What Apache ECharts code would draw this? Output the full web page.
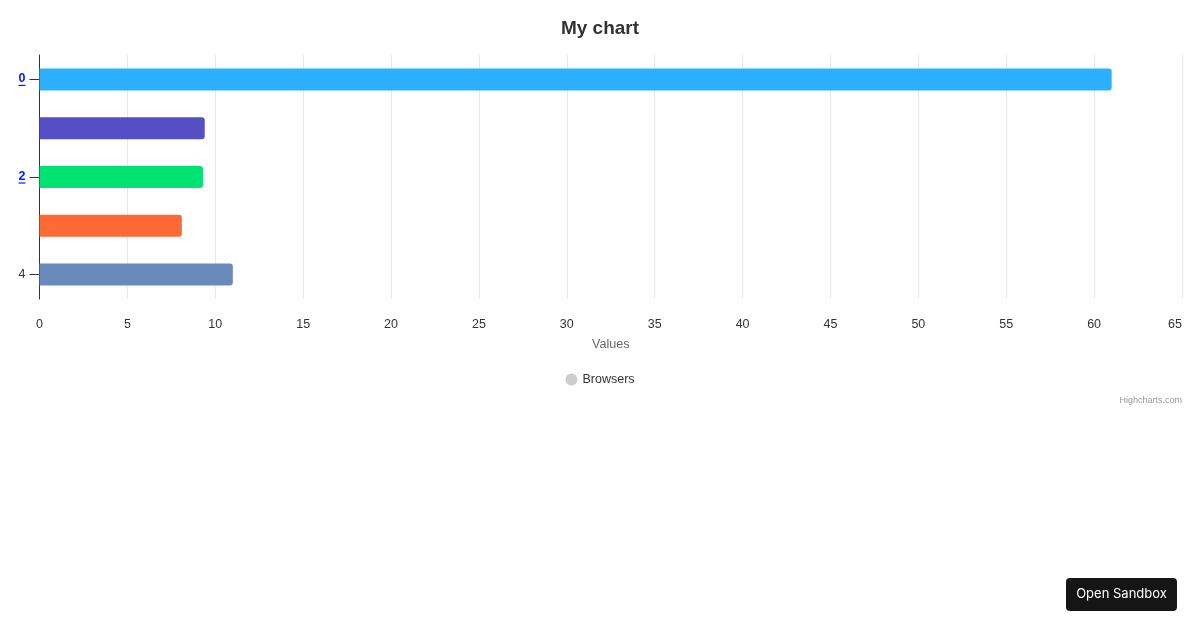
<!DOCTYPE html>
<html>
<head>
	<meta charset="utf-8">
	<title>My chart</title>
	<script src="https://cdn.jsdelivr.net/npm/echarts@6/dist/echarts.min.js"></script>
	<style>
body{
	margin: 0;
	background: #ffffff;
}
#main{
	width: 1200px;
	height: 630px;
}
	</style>
</head>
<body>
<div id="main"></div>
<script>
// data
var categories = ['0', '1', '2', '3', '4'];
var values = [61, 9.4, 9.3, 8.1, 11];
var barColors = ['#2caffe', '#544fc5', '#00e272', '#fe6a35', '#6b8abc'];
var drillCats = ['0', '2'];   // labels drawn as links
var xTicks = [0, 65, 5];      // min, max, step

var myChart = echarts.init(document.getElementById('main'));

var barData = values.map(function (v, i) {
	return { value: v, itemStyle: { color: barColors[i] } };
});

var option = {
	animation: false,
	textStyle: { fontFamily: 'Liberation Sans, Arial, sans-serif' },
	title: {
		text: 'My chart',
		left: 'center',
		top: 14,
		textStyle: { fontSize: 19, fontWeight: 'bold', color: '#333333' }
	},
	legend: {
		bottom: 239,
		left: 'center',
		icon: 'circle',
		itemWidth: 12,
		itemHeight: 12,
		itemGap: 8,
		data: [{ name: 'Browsers', itemStyle: { color: '#cccccc' } }],
		textStyle: { fontSize: 12.5, color: '#333333' }
	},
	grid: { left: 39.5, right: 18, top: 55, bottom: 331 },
	xAxis: {
		type: 'value',
		min: xTicks[0],
		max: xTicks[1],
		interval: xTicks[2],
		name: 'Values',
		nameLocation: 'middle',
		nameGap: 39,
		nameTextStyle: { color: '#666666', fontSize: 12.5 },
		axisLine: { show: false },
		axisTick: { show: false },
		axisLabel: { color: '#333333', fontSize: 12.5, margin: 19, alignMaxLabel: 'right' },
		splitLine: { show: true, lineStyle: { color: '#e6e6e6', width: 1 } }
	},
	yAxis: {
		type: 'category',
		inverse: true,
		data: categories,
		axisLine: { show: true, lineStyle: { color: '#333333', width: 1 } },
		axisTick: { show: true, alignWithLabel: true, length: 10, lineStyle: { color: '#333333' } },
		axisLabel: {
			interval: 1,
			margin: 14,
			fontSize: 12.5,
			formatter: function (v) {
				// underline for drilldown-style links
				if (drillCats.indexOf(v) >= 0) return '{link|' + v + '}\n{u| }';
				return '{plain|' + v + '}';
			},
			rich: {
				link: { color: '#0022ff', fontWeight: 'bold', fontSize: 12.5, lineHeight: 12, align: 'right' },
				u: { width: 7, height: 1.2, lineHeight: 1.2, backgroundColor: '#0022ff', fontSize: 1, align: 'right' },
				plain: { color: '#333333', fontSize: 12.5 }
			}
		},
		splitLine: { show: false }
	},
	series: [
		{
			name: 'Browsers',
			type: 'bar',
			barWidth: 22,
			data: barData,
			itemStyle: { borderRadius: [0, 3, 3, 0] }
		}
	],
	graphic: [
		{
			type: 'text',
			right: 18,
			top: 396,
			style: { text: 'Highcharts.com', fill: '#999999', fontSize: 9, fontFamily: 'Liberation Sans, Arial, sans-serif' }
		},
		{
			type: 'group',
			right: 23,
			top: 578,
			children: [
				{
					type: 'rect',
					shape: { x: 0, y: 0, width: 111, height: 33, r: 4 },
					style: { fill: '#151515' }
				},
				{
					type: 'text',
					x: 55.5,
					y: 16.5,
					style: {
						text: 'Open Sandbox',
						fill: '#ffffff',
						fontSize: 13,
						fontFamily: 'Inter, Roboto, sans-serif',
						align: 'center',
						verticalAlign: 'middle'
					}
				}
			]
		}
	]
};

myChart.setOption(option);
</script>
</body>
</html>
